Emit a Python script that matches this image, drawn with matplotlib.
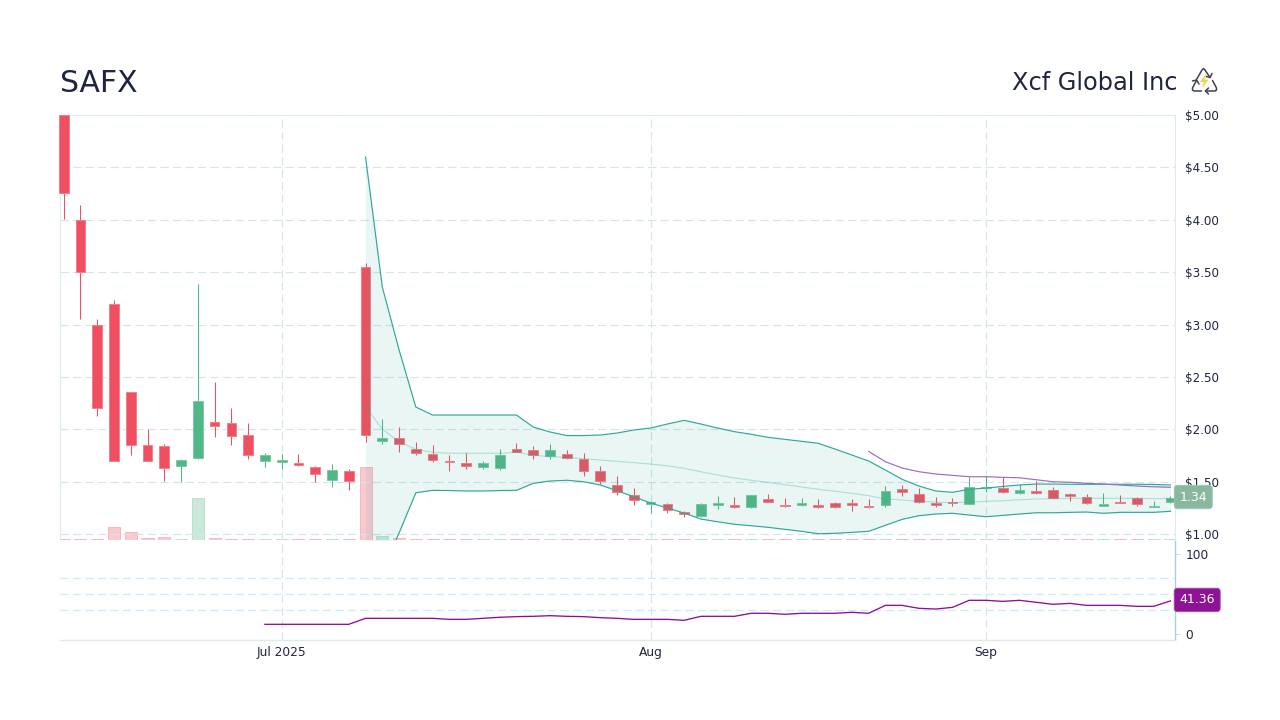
import matplotlib
matplotlib.use("Agg")
import matplotlib.pyplot as plt
import numpy as np

plt.rcParams['font.family'] = ['DejaVu Sans']
plt.rcParams['lines.scale_dashes'] = False

ticker = "SAFX"
company = "Xcf Global Inc"

opens = [5.00, 4.00, 3.00, 3.20, 2.36, 1.85, 1.84, 1.65, 1.73, 2.07, 2.06, 1.95, 1.70, 1.69, 1.68, 1.64, 1.52,
         1.60, 3.55, 1.89, 1.92, 1.81, 1.76, 1.69, 1.68, 1.64, 1.63, 1.81, 1.80, 1.745, 1.76, 1.72, 1.60,
         1.47, 1.375, 1.29, 1.29, 1.205, 1.17, 1.28, 1.28, 1.26, 1.33, 1.27, 1.275, 1.28, 1.295, 1.295, 1.265,
         1.275, 1.43, 1.38, 1.295, 1.305, 1.29, 1.435, 1.435, 1.395, 1.40, 1.42, 1.38, 1.355, 1.265, 1.305,
         1.34, 1.26, 1.305]
closes = [4.255, 3.50, 2.20, 1.70, 1.85, 1.70, 1.63, 1.71, 2.27, 2.03, 1.94, 1.75, 1.75, 1.70, 1.66, 1.57, 1.61,
          1.51, 1.95, 1.92, 1.86, 1.77, 1.71, 1.685, 1.65, 1.68, 1.755, 1.78, 1.755, 1.80, 1.73, 1.60, 1.505,
          1.40, 1.325, 1.30, 1.23, 1.195, 1.29, 1.29, 1.26, 1.37, 1.31, 1.265, 1.295, 1.26, 1.26, 1.275, 1.26,
          1.41, 1.40, 1.31, 1.275, 1.295, 1.445, 1.445, 1.405, 1.425, 1.395, 1.34, 1.36, 1.30, 1.29, 1.295,
          1.285, 1.27, 1.34]
highs = [5.00, 4.14, 3.05, 3.23, 2.36, 2.00, 1.86, 1.72, 3.39, 2.45, 2.20, 2.06, 1.77, 1.76, 1.76, 1.65, 1.67,
         1.62, 3.59, 2.10, 2.02, 1.88, 1.85, 1.75, 1.77, 1.70, 1.81, 1.87, 1.84, 1.86, 1.80, 1.77, 1.65,
         1.55, 1.44, 1.32, 1.30, 1.22, 1.30, 1.36, 1.35, 1.37, 1.38, 1.34, 1.34, 1.33, 1.31, 1.33, 1.33,
         1.46, 1.47, 1.44, 1.35, 1.34, 1.54, 1.55, 1.54, 1.475, 1.51, 1.445, 1.39, 1.38, 1.39, 1.37,
         1.35, 1.32, 1.36]
lows = [4.01, 3.05, 2.13, 1.70, 1.75, 1.70, 1.51, 1.50, 1.72, 1.93, 1.85, 1.72, 1.64, 1.62, 1.65, 1.50, 1.45,
        1.42, 1.88, 1.86, 1.78, 1.75, 1.69, 1.60, 1.62, 1.62, 1.61, 1.78, 1.72, 1.72, 1.72, 1.55, 1.48,
        1.37, 1.28, 1.20, 1.20, 1.16, 1.16, 1.24, 1.25, 1.25, 1.31, 1.26, 1.265, 1.25, 1.25, 1.22, 1.25,
        1.26, 1.36, 1.295, 1.26, 1.27, 1.29, 1.405, 1.395, 1.38, 1.38, 1.34, 1.32, 1.29, 1.265, 1.295,
        1.27, 1.26, 1.30]
volumes = [0.1, 0.15, 0.15, 1.35, 0.85, 0.25, 0.3, 0.15, 4.2, 0.25, 0.15, 0.15, 0.15, 0.15, 0.1, 0.15, 0.15,
           0.15, 7.3, 0.4, 0.25, 0.15, 0.15, 0.12, 0.12, 0.12, 0.12, 0.1, 0.15, 0.1, 0.1, 0.12, 0.12,
           0.12, 0.12, 0.14, 0.1, 0.1, 0.1, 0.14, 0.1, 0.1, 0.1, 0.1, 0.1, 0.1, 0.1, 0.1, 0.1,
           0.1, 0.1, 0.1, 0.1, 0.1, 0.14, 0.1, 0.1, 0.1, 0.1, 0.1, 0.1, 0.1, 0.1, 0.1,
           0.1, 0.1, 0.1]

# bollinger bands start at the big volume day
band_start = 18
band_upper = [4.599, 3.358, 2.757, 2.212, 2.136, 2.136, 2.136, 2.136, 2.136, 2.136, 2.021, 1.974, 1.940, 1.940,
              1.945, 1.964, 1.993, 2.012, 2.050, 2.085, 2.050, 2.012, 1.977, 1.952, 1.923, 1.904, 1.885, 1.866,
              1.811, 1.754, 1.697, 1.611, 1.522, 1.458, 1.411, 1.398, 1.427, 1.439, 1.454, 1.468, 1.477, 1.477,
              1.475, 1.475, 1.475, 1.475, 1.475, 1.473, 1.468]
band_mid = [2.215, 2.002, 1.881, 1.809, 1.780, 1.771, 1.771, 1.771, 1.771, 1.780, 1.754, 1.738, 1.732, 1.719,
            1.706, 1.694, 1.681, 1.668, 1.652, 1.627, 1.595, 1.563, 1.535, 1.513, 1.494, 1.471, 1.449, 1.427,
            1.408, 1.389, 1.366, 1.334, 1.325, 1.312, 1.305, 1.299, 1.305, 1.312, 1.318, 1.327, 1.334, 1.337,
            1.341, 1.341, 1.341, 1.341, 1.341, 1.337, 1.341]
band_lower = [-0.165, 0.647, 1.010, 1.394, 1.417, 1.415, 1.411, 1.411, 1.415, 1.417, 1.484, 1.506, 1.513, 1.499,
              1.468, 1.413, 1.356, 1.296, 1.248, 1.200, 1.143, 1.117, 1.093, 1.079, 1.064, 1.045, 1.026, 1.003,
              1.007, 1.016, 1.026, 1.083, 1.140, 1.175, 1.191, 1.198, 1.181, 1.165, 1.178, 1.191, 1.203, 1.203,
              1.207, 1.210, 1.198, 1.207, 1.207, 1.207, 1.217]

ma_start = 48
ma_values = [1.789, 1.690, 1.630, 1.595, 1.573, 1.560, 1.547, 1.547, 1.541, 1.537, 1.518, 1.499, 1.494, 1.484,
             1.477, 1.468, 1.458, 1.451, 1.446]

rsi_start = 12
rsi_values = [12.1, 12.1, 12.1, 12.1, 12.1, 12.1, 19.6, 19.6, 19.6, 19.6, 19.6, 18.3, 18.3, 19.6, 20.9, 21.7, 22.1,
              22.9, 22.1, 21.7, 20.4, 19.6, 18.3, 18.3, 18.3, 17.1, 22.1, 22.1, 22.1, 25.9, 25.9, 24.6, 25.9, 25.9,
              25.9, 27.1, 25.9, 35.8, 35.8, 32.1, 31.2, 33.3, 42.1, 42.1, 40.8, 42.1, 39.6, 37.1, 38.3, 35.8, 35.8,
              35.8, 34.6, 34.6, 41.36]

date_ticks = [13, 35, 55]
date_labels = ["Jul 2025", "Aug", "Sep"]
price_ticks = [1.0, 1.5, 2.0, 2.5, 3.0, 3.5, 4.0, 4.5, 5.0]
rsi_ticks = [0, 100]
rsi_grid = [30, 50, 70]
last_price = 1.34
last_rsi = 41.36

RED = "#ef4f60"
GREEN = "#52b788"
RED_EDGE = "#f47f8b"
GREEN_EDGE = "#7ccaa5"
TEAL = "#2fa898"
PURPLE = "#8b0f98"
TEXT = "#1f2540"
GRID = "#d5e6ea"
ICON = "#3c4350"

W, H = 1280, 720
fig = plt.figure(figsize=(W / 100, H / 100), dpi=100)
ax = fig.add_axes([60 / W, 1 - 540 / H, 1115 / W, 425 / H])
vol_ax = ax.twinx()
rsi_ax = fig.add_axes([60 / W, 1 - 640 / H, 1115 / W, 100 / H])

xs = np.arange(len(opens))
xlim = (-0.22, 66.27)
colors = [GREEN if c >= o else RED for o, c in zip(opens, closes)]
edges = [GREEN_EDGE if c >= o else RED_EDGE for o, c in zip(opens, closes)]

# volume sits behind the price axes
ax.set_zorder(2)
ax.patch.set_visible(False)
vol_ax.set_zorder(1)
vol_ax.bar(xs, volumes, width=0.72, color=colors, alpha=0.3, edgecolor=colors, linewidth=0.7)
vol_ax.set_ylim(0, 42.5)
vol_ax.set_yticks([])
for s in vol_ax.spines.values():
    s.set_visible(False)

# candles
ax.vlines(xs, lows, highs, color=colors, linewidth=0.75, zorder=3, clip_on=False)
bottoms = [min(o, c) for o, c in zip(opens, closes)]
heights = [max(abs(o - c), 0.012) for o, c in zip(opens, closes)]
ax.bar(xs, heights, bottom=bottoms, width=0.58, color=colors, edgecolor=edges, linewidth=0.7, zorder=3, clip_on=False)

# bands go over the candles
band_x = xs[band_start:]
ax.fill_between(band_x, band_lower, band_upper, color=TEAL, alpha=0.1, linewidth=0, zorder=4)
ax.plot(band_x, band_upper, color=TEAL, lw=0.85, zorder=5)
ax.plot(band_x, band_lower, color=TEAL, lw=0.85, zorder=5)
ax.plot(band_x, band_mid, color=TEAL, lw=0.85, alpha=0.3, zorder=5)
ax.plot(xs[ma_start:], ma_values, color="#9b6cc0", lw=0.85, zorder=5)

ax.set_xlim(xlim)
ax.set_ylim(0.943, 5.0)
ax.yaxis.tick_right()
ax.set_yticks(price_ticks)
ax.set_yticklabels([f"${p:.2f}" for p in price_ticks])
ax.tick_params(axis='y', length=0, pad=7, labelsize=8.6, labelcolor=TEXT)
ax.set_xticks(date_ticks)
ax.tick_params(axis='x', length=0, labelbottom=False)
ax.grid(True, color=GRID, lw=0.85, linestyle=(0, (6, 3)))
ax.set_axisbelow(True)
for name, s in ax.spines.items():
    s.set_color("#dcecf0")
    s.set_linewidth(0.8)
    s.set_visible(name != 'bottom')

# rsi panel
rsi_ax.plot(xs[rsi_start:], rsi_values, color=PURPLE, lw=0.95, zorder=3)
rsi_ax.set_xlim(xlim)
rsi_ax.set_ylim(-7.5, 117.5)
rsi_ax.yaxis.tick_right()
rsi_ax.set_yticks(rsi_ticks)
rsi_ax.tick_params(axis='y', length=3.5, width=0.7, color="#bcdce4", pad=4, labelsize=8.8, labelcolor=TEXT)
rsi_ax.set_xticks(date_ticks)
rsi_ax.set_xticklabels(date_labels)
rsi_ax.tick_params(axis='x', length=0, pad=4, labelsize=8.8, labelcolor=TEXT)
rsi_ax.grid(True, axis='x', color=GRID, lw=0.85, linestyle=(0, (6, 3)))
for g in rsi_grid:
    rsi_ax.axhline(g, color="#c8eefa", lw=0.9, linestyle=(0, (6, 3)), zorder=1)
rsi_ax.patch.set_visible(False)
for name, s in rsi_ax.spines.items():
    s.set_color("#e2e9eb")
    s.set_linewidth(1.0)
    s.set_visible(name in ('bottom', 'right'))
rsi_ax.spines['right'].set_color("#a8d0d8")

# last value tags
ax.annotate(f"{last_price:.2f}", xy=(1.0, last_price), xycoords=ax.get_yaxis_transform(), xytext=(3.2, 1),
            textcoords='offset points', color="white", fontsize=9, va='center', ha='left', zorder=10,
            annotation_clip=False,
            bbox=dict(boxstyle="round,pad=0.42,rounding_size=0.25", fc="#8ab89e", ec="#a4c8b4", lw=0.6))
rsi_ax.annotate(f"{last_rsi:.2f}", xy=(1.0, last_rsi), xycoords=rsi_ax.get_yaxis_transform(), xytext=(3.2, 0.7),
                textcoords='offset points', color="white", fontsize=9, va='center', ha='left', zorder=10,
                annotation_clip=False,
                bbox=dict(boxstyle="round,pad=0.42,rounding_size=0.25", fc="#8d1296", ec="#a84cae", lw=0.6))

# titles
fig.text(60 / W, 1 - 83.5 / H, ticker, fontsize=21.5, color=TEXT, va='center', ha='left')
fig.text(1178 / W, 1 - 83.5 / H, company, fontsize=17.3, color=TEXT, va='center', ha='right')

# recycle / lightning logo, axes coords are pixels of the picture
icon = fig.add_axes([1188 / W, 1 - 96 / H, 32 / W, 32 / H])
icon.set_xlim(1188, 1220)
icon.set_ylim(96, 64)
icon.axis('off')
icon.fill([1206.5, 1200, 1204, 1202, 1208.5, 1204.5], [73, 82, 82, 89, 79.5, 79.5], color="#f8d04a", lw=0)
strokes = [
    ([1196.5, 1202, 1203.5, 1205, 1210], [79.5, 70, 68.5, 70, 77.5]),
    ([1206.5, 1210, 1212], [76.5, 77.5, 73.5]),
    ([1212.5, 1216.5, 1216.5, 1215, 1205.5], [80.5, 88, 90, 91, 91]),
    ([1208.5, 1205.5, 1208.5], [88, 91, 94]),
    ([1201.5, 1194, 1192.5, 1192.5, 1196.5], [91, 91, 90, 88, 80.5]),
    ([1192.5, 1196.5, 1199], [81, 80, 84]),
]
for sx, sy in strokes:
    icon.plot(sx, sy, color=ICON, lw=1.1, solid_capstyle='round', solid_joinstyle='round')

fig.savefig("out.png", dpi=100, facecolor="white")
